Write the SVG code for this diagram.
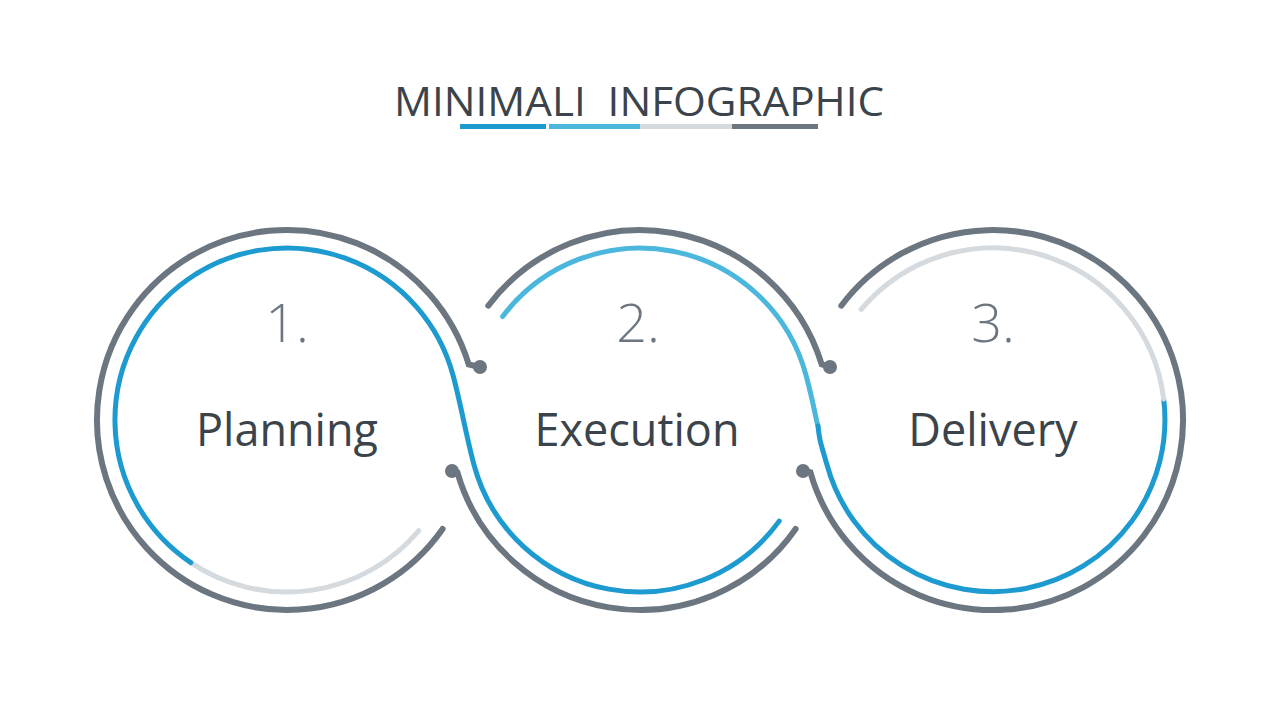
<svg xmlns="http://www.w3.org/2000/svg" width="1280" height="720" viewBox="0 0 1280 720">
<style>
.g{fill:none;stroke:#6b7680;stroke-width:6;stroke-linecap:round}
.lg{fill:none;stroke:#d5dadf;stroke-width:5;stroke-linecap:round}
.b{fill:none;stroke:#1d9ad0;stroke-width:5;stroke-linecap:round}
.lb{fill:none;stroke:#4cb7dc;stroke-width:5;stroke-linecap:round}
.d{fill:#6b7680}
.num{font-family:"Open Sans",Lato,sans-serif;font-weight:300;font-size:54px;fill:#6b7680;text-anchor:middle}
.lab{font-family:"Open Sans",Lato,sans-serif;font-size:45px;fill:#3b434b;text-anchor:middle}
</style>
<rect width="1280" height="720" fill="#fff"/>
<g id="title">
<text x="639" y="116" font-family="'Open Sans',Lato,sans-serif" font-size="40" fill="#3b434b" text-anchor="middle" textLength="490" lengthAdjust="spacingAndGlyphs" xml:space="preserve">MINIMALI  INFOGRAPHIC</text>
<rect x="460" y="124" width="86" height="5" fill="#1d9ad0"/>
<rect x="549" y="124" width="91" height="5" fill="#4cb7dc"/>
<rect x="640" y="124" width="92" height="5" fill="#d5dadf"/>
<rect x="732" y="124" width="86" height="5" fill="#6b7680"/>
</g>
<g id="connectors">
<path class="g" d="M442.6,529 A190,190 0 1 1 468.7,364.4 L480,367"/>
<path class="lg" d="M418.8,530.6 A172,172 0 0 1 190.8,562.6"/>
<path class="b" d="M190.8,562.6 A172,172 0 1 1 453.1,375.5 C460.9,404.5 466.1,435.5 473.9,464.5 A172,172 0 0 0 779.2,521.1"/>
<path class="g" d="M488.3,305.7 A190,190 0 0 1 821.7,364.4 L831,367"/>
<path class="g" d="M452,471 L457.4,472.4 A190,190 0 0 0 795.6,529"/>
<path class="lb" d="M502.6,316.5 A172,172 0 0 1 806.1,375.5 C813.9,404.5 816,420 818,426"/>
<path class="b" d="M818,426 C819.5,440 820,441 826.9,464.5 A172,172 0 0 0 1163.7,399"/>
<path class="lg" d="M1163.7,399 A172,172 0 0 0 861.2,309.4"/>
<path class="g" d="M804,471 L810.4,472.4 A190,190 0 1 0 841.3,305.7"/>
<circle class="d" cx="480" cy="367" r="7"/>
<circle class="d" cx="452" cy="471" r="7"/>
<circle class="d" cx="830" cy="367" r="7"/>
<circle class="d" cx="803" cy="471" r="7"/>
</g>
<g id="node1"><text class="num" x="287" y="342">1.</text><text class="lab" x="287" y="446">Planning</text></g>
<g id="node2"><text class="num" x="638" y="342">2.</text><text class="lab" x="637" y="446">Execution</text></g>
<g id="node3"><text class="num" x="993" y="342">3.</text><text class="lab" x="993" y="446">Delivery</text></g>
</svg>
